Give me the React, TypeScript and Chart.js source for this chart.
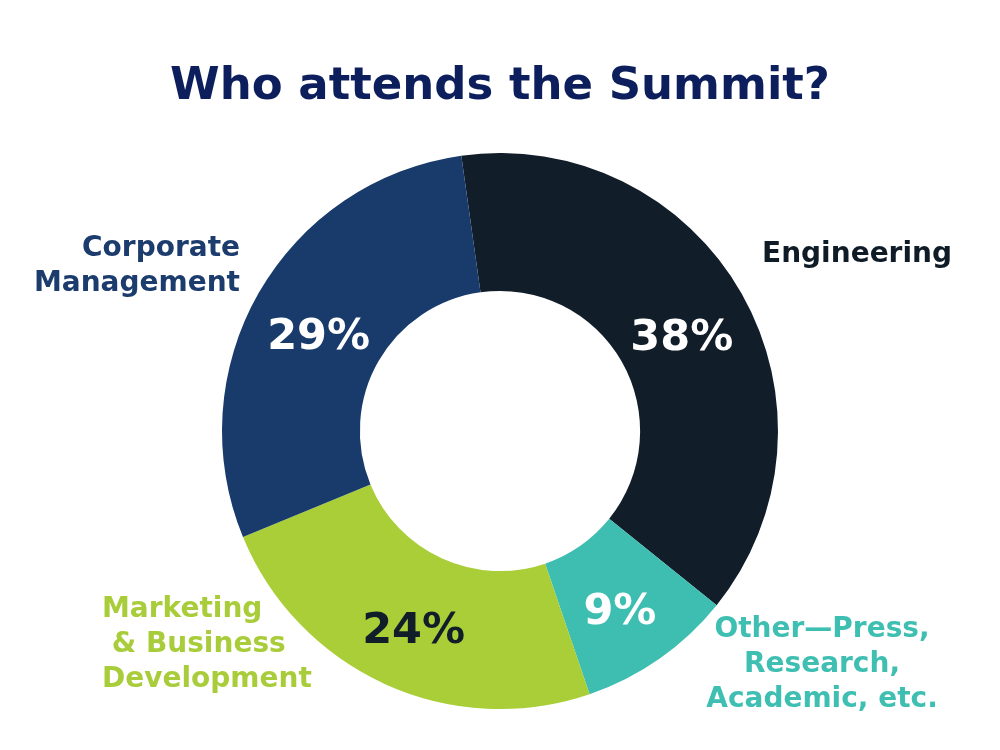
import React, { useEffect, useRef } from 'react';
import { Chart, registerables } from 'chart.js';

Chart.register(...registerables);

// data
const categories = ['Engineering', 'Other', 'Marketing & Business Development', 'Corporate Management'];
const shares = [38, 9, 24, 29];
const sliceColors = ['#111d29', '#3ebeb1', '#a9ce38', '#183b6c'];
const percentColors = ['#ffffff', '#ffffff', '#111d29', '#ffffff'];

// outer text labels (one entry per slice)
const labelLines = [
  ['Engineering'],
  ['Other\u2014Press,', 'Research,', 'Academic, etc.'],
  ['Marketing', ' & Business', 'Development'],
  ['Corporate', 'Management'],
];
const labelColors = ['#0f1c28', '#3ebfb2', '#a9cd3a', '#1b3c6c'];

const TITLE = 'Who attends the Summit?';
const FONT = '"DejaVu Sans", "Open Sans", sans-serif';

// where each outer label sits: anchor x, first baseline, alignment
const labelPlacement: { x: number; y: number; align: CanvasTextAlign }[] = [
  { x: 762, y: 262, align: 'left' },
  { x: 822, y: 637, align: 'center' },
  { x: 102, y: 617, align: 'left' },
  { x: 240, y: 256, align: 'right' },
];
const LINE_GAP = 35;

const textPlugin = {
  id: 'summitText',
  afterDatasetsDraw(chart: Chart) {
    const ctx = chart.ctx;
    ctx.save();

    // title
    ctx.fillStyle = '#0c1f5c';
    ctx.font = `bold 45px ${FONT}`;
    ctx.textAlign = 'center';
    ctx.textBaseline = 'alphabetic';
    ctx.fillText(TITLE, 500, 99);

    // percentages inside the slices
    const meta = chart.getDatasetMeta(0);
    ctx.font = `bold 43px ${FONT}`;
    meta.data.forEach((arc: any, i: number) => {
      const p = arc.tooltipPosition(false);
      ctx.fillStyle = percentColors[i];
      ctx.fillText(`${shares[i]}%`, p.x, p.y + 22);
    });

    // category names round the ring
    ctx.font = `bold 28px ${FONT}`;
    labelLines.forEach((lines, i) => {
      const pl = labelPlacement[i];
      ctx.fillStyle = labelColors[i];
      ctx.textAlign = pl.align;
      lines.forEach((line, j) => {
        ctx.fillText(line, pl.x, pl.y + j * LINE_GAP);
      });
    });

    ctx.restore();
  },
};

const App: React.FC = () => {
  const canvasRef = useRef<HTMLCanvasElement>(null);
  const chartRef = useRef<Chart>();

  useEffect(() => {
    if (!canvasRef.current) return;
    const ctx = canvasRef.current.getContext('2d');
    if (!ctx) return;

    chartRef.current = new Chart(ctx, {
      type: 'doughnut',
      data: {
        labels: categories,
        datasets: [
          {
            data: shares,
            backgroundColor: sliceColors,
            borderWidth: 0,
          },
        ],
      },
      options: {
        animation: false,
        responsive: true,
        maintainAspectRatio: false,
        rotation: -8,
        cutout: '50.4%',
        layout: {
          padding: { left: 222, right: 222, top: 153, bottom: 41 },
        },
        plugins: {
          legend: { display: false },
          tooltip: { enabled: false },
          title: { display: false },
        },
      },
      plugins: [textPlugin],
    });

    return () => {
      if (chartRef.current) {
        chartRef.current.destroy();
      }
    };
  }, []);

  return (
    <div style={{ position: 'absolute', left: 0, top: 0, width: 1000, height: 750, background: '#fff' }}>
      <canvas ref={canvasRef} />
    </div>
  );
};

export default App;
